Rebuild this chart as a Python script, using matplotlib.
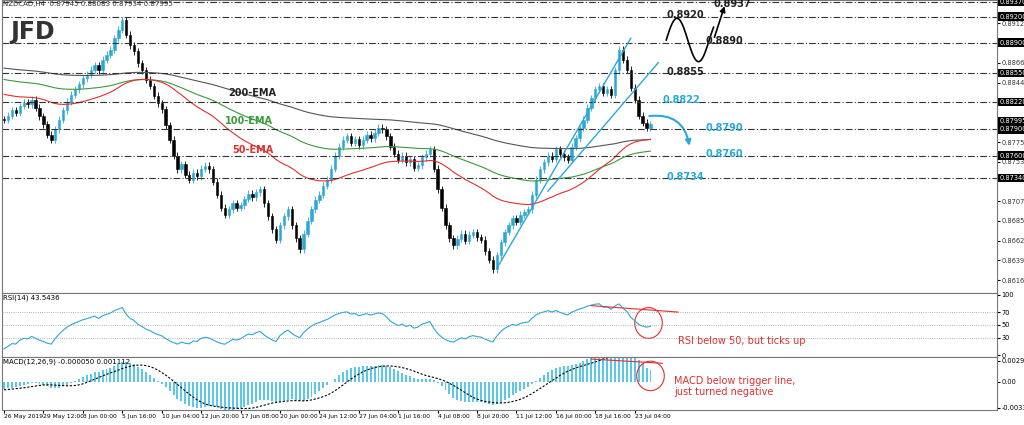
import numpy as np
import pandas as pd
import matplotlib
matplotlib.use("Agg")
import matplotlib.pyplot as plt
from matplotlib.patches import Rectangle, Ellipse, FancyArrowPatch

prior_closes = [0.8878,0.8830,0.8820,0.8815,0.8812,0.8810,0.8814,0.8818,0.8815,0.8811,
0.8808,0.8812,0.8816,0.8813,0.8810,0.8807,0.8811,0.8815,0.8812,0.8809,
0.8806,0.8810,0.8813,0.8809,0.8805,0.8808,0.8812,0.8809,0.8805,0.8802]
closes = [0.8801,0.8806,0.8812,0.8809,0.8817,0.8821,0.8819,0.8824,
0.8815,0.8805,0.8796,0.8784,0.8778,
0.8790,0.8801,0.8812,0.8822,0.8830,
0.8836,0.8842,0.8849,0.8853,0.8859,
0.8864,0.8858,0.8870,0.8876,0.8882,
0.8895,0.8905,0.8916,
0.8899,0.8887,
0.8880,0.8866,0.8858,0.8847,
0.8840,0.8829,0.8820,0.8813,
0.8795,0.8778,0.8760,0.8744,
0.8750,0.8738,0.8732,
0.8740,0.8736,0.8745,0.8748,0.8744,
0.8730,0.8715,0.8700,0.8692,
0.8698,0.8705,0.8700,0.8703,
0.8710,0.8716,0.8712,0.8718,0.8721,
0.8705,0.8690,0.8675,0.8663,
0.8680,0.8690,0.8698,
0.8680,0.8665,0.8652,
0.8670,0.8685,0.8698,0.8709,
0.8715,0.8725,0.8732,
0.8745,0.8760,0.8770,0.8778,
0.8782,0.8775,0.8779,0.8772,
0.8778,0.8784,0.8780,0.8786,0.8792,0.8790,
0.8782,0.8770,0.8762,0.8755,
0.8760,0.8752,0.8756,0.8746,0.8749,
0.8758,0.8762,0.8767,
0.8745,0.8721,
0.8700,0.8680,0.8665,0.8657,
0.8664,0.8670,0.8662,0.8669,
0.8672,0.8666,0.8663,
0.8650,0.8640,0.8629,
0.8645,0.8660,0.8672,0.8680,
0.8688,0.8684,0.8692,0.8695,0.8698,
0.8715,0.8732,0.8744,
0.8752,0.8760,0.8756,0.8767,
0.8762,0.8758,0.8755,
0.8770,0.8780,0.8792,0.8801,
0.8815,0.8826,0.8836,
0.8840,0.8832,0.8836,0.8830,
0.8858,0.8882,
0.8870,0.8859,
0.8838,0.8824,
0.8806,0.8798,0.8792,
0.8796]
levels = [0.8937, 0.8920, 0.8890, 0.8855, 0.8822, 0.8790, 0.8760, 0.8734]
price_ticks = [0.89120, 0.88665, 0.88440, 0.87755, 0.87530, 0.87075, 0.86850, 0.86620, 0.86395, 0.86165]
xtick_labels = ["26 May 2019","29 May 12:00","3 Jun 00:00","5 Jun 16:00","10 Jun 04:00","12 Jun 20:00",
"17 Jun 08:00","20 Jun 00:00","24 Jun 12:00","27 Jun 04:00","1 Jul 16:00","4 Jul 08:00","8 Jul 20:00",
"11 Jul 12:00","16 Jul 00:00","18 Jul 16:00","23 Jul 04:00"]

full = pd.Series(prior_closes + closes)
k0 = len(prior_closes)
c = pd.Series(closes)
o = c.shift(1).fillna(prior_closes[-1])
n = len(c)
idx = np.arange(n)
ema50 = full.ewm(span=50, adjust=False).mean().iloc[k0:].values
ema100 = full.ewm(span=100, adjust=False).mean().iloc[k0:].values
ema200 = full.ewm(span=200, adjust=False).mean().iloc[k0:].values
d = full.diff()
up = d.clip(lower=0).ewm(alpha=1/14, adjust=False).mean()
dn = (-d.clip(upper=0)).ewm(alpha=1/14, adjust=False).mean()
rsi = (100 - 100/(1 + up/dn.replace(0, 1e-9))).iloc[k0:].values
macd_f = full.ewm(span=12, adjust=False).mean() - full.ewm(span=26, adjust=False).mean()
macd = macd_f.iloc[k0:].values
signal = macd_f.rolling(9, min_periods=1).mean().iloc[k0:].values

fig = plt.figure(figsize=(10.24, 4.25), dpi=100)
ax = fig.add_axes([0.002, 0.311, 0.972, 0.689])
ax2 = fig.add_axes([0.002, 0.16, 0.972, 0.151], sharex=ax)
ax3 = fig.add_axes([0.002, 0.035, 0.972, 0.125], sharex=ax)
blue = '#2aa8d8'
XL = (-0.5, 252)
for i in range(n):
    oo, cc = o[i], c[i]
    hi = max(oo, cc) + 0.0004
    lo = min(oo, cc) - 0.0004
    col = blue if cc >= oo else 'black'
    ax.vlines(i, lo, hi, color=col, lw=0.6)
    ax.add_patch(Rectangle((i-0.3, min(oo, cc)), 0.6, max(abs(cc-oo), 0.00005),
                           facecolor=col, edgecolor=col, lw=0.4))
ax.plot(idx, ema200, color='#555555', lw=0.8)
ax.plot(idx, ema100, color='#3a9a3a', lw=0.8)
ax.plot(idx, ema50, color='#e03030', lw=0.8)
for lv in levels:
    ax.axhline(lv, color='#333333', lw=0.8, ls=(0, (6, 2, 1, 2)))
ax.set_xlim(*XL)
ax.set_ylim(0.8602, 0.8939)
ax.yaxis.tick_right()
ax.set_yticks(price_ticks)
ax.set_yticklabels([f"{t:.5f}" for t in price_ticks], fontsize=4.8, color='#333333')
ax.tick_params(axis='x', labelbottom=False, length=0)
ax.tick_params(axis='y', length=2, pad=1)
for lv in levels + [0.87995]:
    ax.text(1.002, lv, f"{lv:.5f}", transform=ax.get_yaxis_transform(), fontsize=4.8, color='white',
            va='center', ha='left', bbox=dict(facecolor='black', edgecolor='none', pad=0.8))
ax.plot([125, 159], [0.8630, 0.8895], color=blue, lw=1.0)
ax.plot([138, 166], [0.8719, 0.8867], color=blue, lw=1.0)
ax.text(57, 0.8829, "200-EMA", fontsize=7, fontweight='bold', color='#222222')
ax.text(56, 0.8796, "100-EMA", fontsize=7, fontweight='bold', color='#3a9a3a')
ax.text(58, 0.8763, "50-EMA", fontsize=7, fontweight='bold', color='#e03030')
ax.text(168, 0.8918, "0.8920", fontsize=7, fontweight='bold', color='#222222')
ax.text(180, 0.8931, "0.8937", fontsize=7, fontweight='bold', color='#222222')
ax.text(178, 0.8888, "0.8890", fontsize=7, fontweight='bold', color='#222222')
ax.text(168, 0.8853, "0.8855", fontsize=7, fontweight='bold', color='#222222')
ax.text(167, 0.8820, "0.8822", fontsize=7, fontweight='bold', color=blue)
ax.text(178, 0.8788, "0.8790", fontsize=7, fontweight='bold', color=blue)
ax.text(178, 0.8758, "0.8760", fontsize=7, fontweight='bold', color=blue)
ax.text(168, 0.8732, "0.8734", fontsize=7, fontweight='bold', color=blue)
tt = np.linspace(0, 1, 40)
ax.plot(168 + 12*tt, 0.8893 + 0.0025*np.sin(np.pi*2.2*tt), color='black', lw=1.2)
ax.add_patch(FancyArrowPatch((180, 0.8893), (183, 0.8935), arrowstyle='-|>', mutation_scale=8, color='black', lw=1.2))
ax.add_patch(FancyArrowPatch((163, 0.8805), (174, 0.8768), connectionstyle="arc3,rad=-0.5",
                             arrowstyle='-|>', mutation_scale=8, color=blue, lw=1.5))
ax.text(0.001, 0.995, "NZDCAD,H4  0.87945 0.88083 0.87934 0.87995", transform=ax.transAxes,
        fontsize=5, va='top', color='#333333')
ax.text(0.008, 0.93, "JFD", transform=ax.transAxes, fontsize=17, fontweight='bold', va='top', color='#333333')

ax2.plot(idx, rsi, color=blue, lw=0.8)
for lv in (70, 50, 30):
    ax2.axhline(lv, color='#999999', lw=0.6, ls=':')
ax2.set_ylim(0, 100)
ax2.yaxis.tick_right()
ax2.set_yticks([3, 30, 50, 70, 97])
ax2.set_yticklabels(["0", "30", "50", "70", "100"])
ax2.tick_params(axis='y', labelsize=4.8, length=2, pad=1)
ax2.tick_params(axis='x', labelbottom=False, length=0)
ax2.plot([149, 171], [80, 70], color='#e03030', lw=0.8)
ax2.add_patch(Ellipse((163.5, 53), 7, 48, fill=False, edgecolor='#e03030', lw=0.8))
ax2.text(171, 20, "RSI below 50, but ticks up", fontsize=7, color='#e03030')
ax2.text(0.001, 0.97, "RSI(14) 43.5436", transform=ax2.transAxes, fontsize=5, va='top')

ax3.bar(idx, macd, width=0.5, color='#5bc8ea')
ax3.plot(idx, signal, color='black', lw=0.8, ls=(0, (2, 1.5)))
ax3.set_ylim(-0.003362, 0.002947)
ax3.yaxis.tick_right()
ax3.set_yticks([-0.0031, 0.0, 0.0025])
ax3.set_yticklabels(["-0.003362", "0.00", "0.002947"], fontsize=4.8)
ax3.tick_params(axis='y', length=2, pad=1)
ax3.set_xticks(np.arange(0, 170, 10))
ax3.set_xticklabels(xtick_labels, fontsize=4.3, ha='left')
ax3.tick_params(axis='x', length=2, pad=1)
ax3.plot([149, 167], [0.0027, 0.0022], color='#e03030', lw=0.8)
ax3.add_patch(Ellipse((164, 0.0007), 7, 0.0035, fill=False, edgecolor='#e03030', lw=0.8))
ax3.text(170, -0.0016, "MACD below trigger line,\njust turned negative", fontsize=7, color='#e03030')
ax3.text(0.001, 0.97, "MACD(12,26,9) -0.000050 0.001112", transform=ax3.transAxes, fontsize=5, va='top')
for a in (ax, ax2, ax3):
    for s in a.spines.values():
        s.set_color('#777777'); s.set_linewidth(0.8)
fig.savefig("out.png", dpi=100)
